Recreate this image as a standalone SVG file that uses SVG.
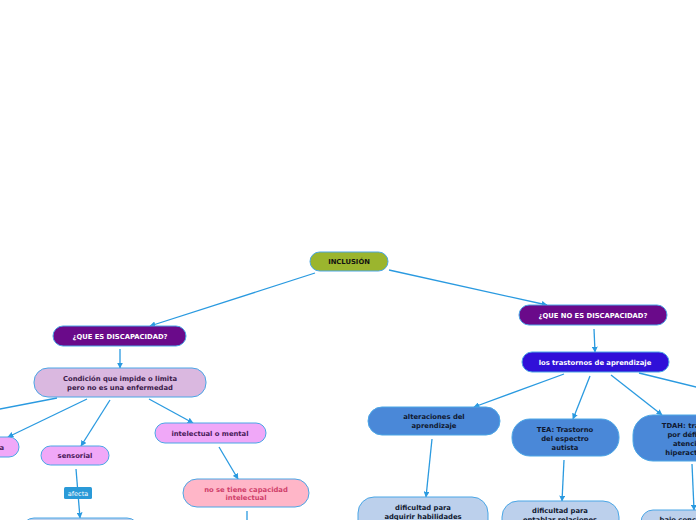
<svg xmlns="http://www.w3.org/2000/svg" width="696" height="520" viewBox="0 0 696 520">
<defs>
<style>
.n{stroke:#4aa6e6;stroke-width:1}
.t{font-family:"DejaVu Sans",Verdana,sans-serif;font-weight:bold;font-size:6.8px;text-anchor:middle}
.c{stroke:#2a9ae0;stroke-width:1.3;fill:none}
</style>
<marker id="ar" viewBox="0 0 10 10" refX="9" refY="5" markerWidth="6" markerHeight="6" markerUnits="userSpaceOnUse" orient="auto">
<path d="M0,0 L10,5 L0,10 z" fill="#2a9ae0"/>
</marker>
</defs>
<rect width="696" height="520" fill="#ffffff"/>
<g id="connectors">
<line class="c" x1="315" y1="273" x2="150" y2="326" marker-end="url(#ar)"/>
<line class="c" x1="389" y1="270" x2="547" y2="305" marker-end="url(#ar)"/>
<line class="c" x1="120" y1="349" x2="120" y2="368" marker-end="url(#ar)"/>
<line class="c" x1="57" y1="398" x2="-5" y2="410"/>
<line class="c" x1="87" y1="399" x2="8" y2="437" marker-end="url(#ar)"/>
<line class="c" x1="110" y1="400" x2="81" y2="446" marker-end="url(#ar)"/>
<line class="c" x1="149" y1="399" x2="193" y2="423" marker-end="url(#ar)"/>
<line class="c" x1="76" y1="469" x2="80" y2="518" marker-end="url(#ar)"/>
<line class="c" x1="219" y1="447" x2="238" y2="479" marker-end="url(#ar)"/>
<line class="c" x1="247" y1="511" x2="247" y2="522"/>
<line class="c" x1="594" y1="329" x2="595" y2="352" marker-end="url(#ar)"/>
<line class="c" x1="564" y1="374" x2="474" y2="407" marker-end="url(#ar)"/>
<line class="c" x1="590" y1="376" x2="573" y2="419" marker-end="url(#ar)"/>
<line class="c" x1="611" y1="375" x2="662" y2="415" marker-end="url(#ar)"/>
<line class="c" x1="639" y1="373" x2="700" y2="388"/>
<line class="c" x1="432" y1="439" x2="426" y2="497" marker-end="url(#ar)"/>
<line class="c" x1="564" y1="460" x2="562" y2="501" marker-end="url(#ar)"/>
<line class="c" x1="692" y1="464" x2="694" y2="510" marker-end="url(#ar)"/>
<rect x="64" y="487" width="28" height="12" rx="1.5" fill="#2a9ad8"/>
<text x="78" y="495.5" style="font-family:'DejaVu Sans',Verdana,sans-serif;font-size:6.5px;text-anchor:middle" fill="#ffffff">afecta</text>
</g>
<g id="inclusion">
<rect class="n" x="310" y="252" width="78" height="19" rx="9.5" fill="#9bb52e"/>
<text class="t" x="349" y="264" fill="#111111">INCLUSIÓN</text>
</g>
<g id="que-es">
<rect class="n" x="53" y="326" width="133" height="20" rx="10" fill="#6a0a8a"/>
<text class="t" x="120" y="338.5" fill="#ffffff">¿QUE ES DISCAPACIDAD?</text>
</g>
<g id="que-no-es">
<rect class="n" x="519" y="305" width="148" height="20" rx="10" fill="#6a0a8a"/>
<text class="t" x="593" y="317.5" fill="#ffffff">¿QUE NO ES DISCAPACIDAD?</text>
</g>
<g id="trastornos">
<rect class="n" x="522" y="352" width="147" height="20" rx="10" fill="#3010d8"/>
<text class="t" x="595" y="364.5" fill="#ffffff">los trastornos de aprendizaje</text>
</g>
<g id="condicion">
<rect class="n" x="34" y="368" width="172" height="29" rx="14" fill="#dab8e0"/>
<text class="t" x="120" y="380.5" fill="#3a1a4a">Condición que impide o limita</text>
<text class="t" x="120" y="389.5" fill="#3a1a4a">pero no es una enfermedad</text>
</g>
<g id="fisica">
<rect class="n" x="-40" y="437" width="59" height="20" rx="10" fill="#f0a8f8"/>
<text class="t" x="-6" y="449.5" fill="#4a1a5a">física</text>
</g>
<g id="sensorial">
<rect class="n" x="41" y="446" width="68" height="19" rx="9.5" fill="#f0a8f8"/>
<text class="t" x="75" y="458" fill="#4a1a5a">sensorial</text>
</g>
<g id="intelectual">
<rect class="n" x="155" y="423" width="111" height="20" rx="10" fill="#f0a8f8"/>
<text class="t" x="210" y="435.5" fill="#4a1a5a">intelectual o mental</text>
</g>
<g id="no-capacidad">
<rect class="n" x="183" y="479" width="126" height="28" rx="14" fill="#ffb6c8"/>
<text class="t" x="246" y="491.5" fill="#d0406a">no se tiene capacidad</text>
<text class="t" x="246" y="500" fill="#d0406a">intelectual</text>
</g>
<g id="sensorial-hijo">
<rect class="n" x="22" y="518" width="117" height="24" rx="12" fill="#bcd0ec"/>
</g>
<g id="alteraciones">
<rect class="n" x="368" y="407" width="132" height="28" rx="14" fill="#4a88d8"/>
<text class="t" x="434" y="419" fill="#101830">alteraciones del</text>
<text class="t" x="434" y="428" fill="#101830">aprendizaje</text>
</g>
<g id="tea">
<rect class="n" x="512" y="419" width="107" height="37" rx="18" fill="#4a88d8"/>
<text class="t" x="565" y="432" fill="#101830">TEA: Trastorno</text>
<text class="t" x="565" y="441" fill="#101830">del espectro</text>
<text class="t" x="565" y="450" fill="#101830">autista</text>
</g>
<g id="tdah">
<rect class="n" x="633" y="415" width="120" height="46" rx="20" fill="#4a88d8"/>
<text class="t" x="693" y="428" fill="#101830">TDAH: trastorno</text>
<text class="t" x="693" y="437" fill="#101830">por déficit de</text>
<text class="t" x="693" y="446" fill="#101830">atención e</text>
<text class="t" x="693" y="455" fill="#101830">hiperactividad</text>
</g>
<g id="dificultad-habilidades">
<rect class="n" x="358" y="497" width="130" height="40" rx="16" fill="#bcd0ec"/>
<text class="t" x="423" y="510" fill="#101830">dificultad para</text>
<text class="t" x="423" y="519" fill="#101830">adquirir habilidades</text>
</g>
<g id="dificultad-relaciones">
<rect class="n" x="502" y="501" width="117" height="40" rx="16" fill="#bcd0ec"/>
<text class="t" x="560" y="513" fill="#101830">dificultad para</text>
<text class="t" x="560" y="522" fill="#101830">entablar relaciones</text>
</g>
<g id="baja-concentracion">
<rect class="n" x="641" y="510" width="110" height="30" rx="12" fill="#bcd0ec"/>
<text class="t" x="696" y="522" fill="#101830">bajo concentración</text>
</g>
</svg>
